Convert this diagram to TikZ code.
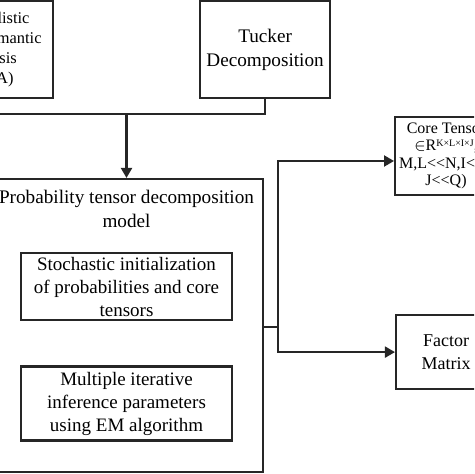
\documentclass[tikz,border=0pt]{standalone}
\usepackage{fontspec}
\setmainfont{Liberation Serif}
\usetikzlibrary{positioning, arrows.meta}

\begin{document}
\begin{tikzpicture}[
  x=0.5pt, y=-0.5pt,
  node distance=10pt,
  box/.style={draw=black!85, line width=1.05pt, align=center, inner sep=2pt},
  topbox/.style={box, minimum width=65pt, minimum height=48.5pt},
  stagebox/.style={box, minimum width=105.5pt, font=\fontsize{9.5}{11.5}\selectfont},
  outbox/.style={box, minimum width=50pt},
  flow/.style={-{Triangle[length=5pt, width=5.5pt]}, line width=1.05pt, draw=black!85},
  link/.style={line width=1.05pt, draw=black!85},
]
  \useasboundingbox (0,0) rectangle (474,474);
  \clip (0,0) rectangle (474,474);

  % --- inputs: PLSA and Tucker ---
  \node[topbox, font=\fontsize{8.2}{10}\selectfont] (plsa) at (-12,49.5)
    {Probabilistic\\Latent Semantic\\Analysis\\(PLSA)};
  \node[topbox, font=\fontsize{9.6}{12}\selectfont, right=72.5pt of plsa] (tucker)
    {Tucker\\Decomposition};

  % --- probability tensor decomposition model ---
  \node[box, minimum width=136.5pt, minimum height=146.5pt] (model) at (126.5,325.5) {};
  \node[inner sep=0pt, align=center, font=\fontsize{9.6}{12}\selectfont,
        below=6pt of model.north] (title)
    {Probability tensor decomposition\\model};
  \node[stagebox, minimum height=32pt, below=37pt of model.north] (init)
    {Stochastic initialization\\of probabilities and core\\tensors};
  \node[stagebox, minimum height=37pt, below=22pt of init] (infer)
    {Multiple iterative\\inference parameters\\using EM algorithm};

  % --- outputs ---
  \node[outbox, minimum height=39pt, font=\fontsize{8}{8.8}\selectfont] (core) at (446,156)
    {Core Tensor\\$\in$R{\fontsize{5}{5}\selectfont\raisebox{0.45em}{K×L×I×J}},\\M,L<{}<N,I<{}<P\\J<{}<Q)};
  \node[outbox, minimum height=37pt, font=\fontsize{9}{11.5}\selectfont,
        below=59pt of core] (factor)
    {Factor\\Matrix};

  % --- connectors ---
  \coordinate (join) at (126.5,114);
  \coordinate (split) at (278,327);
  \draw[link] (plsa.south) |- (join) -| (tucker.south);
  \draw[flow] (join) -- (model.north);
  \draw[link] (model.east |- split) -- (split);
  \draw[flow] (split) |- ([yshift=-2.5pt]core.west);
  \draw[flow] (split) |- (factor.west);
\end{tikzpicture}
\end{document}
